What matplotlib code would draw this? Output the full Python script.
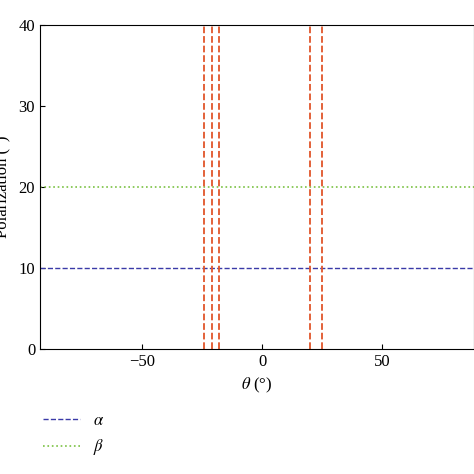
import matplotlib
matplotlib.use("Agg")
import matplotlib.pyplot as plt

plt.rcParams['font.family'] = ['Liberation Serif', 'DejaVu Serif']
plt.rcParams['mathtext.fontset'] = 'stix'
alpha_val = [10]
beta_val = [20]
vlines_x = [-24, -21, -18, 20, 25]
xticks = [-50, 0, 50]
yticks = [0, 10, 20, 30, 40]

fig = plt.figure(figsize=(4.74, 4.74), dpi=100)
ax = fig.add_axes([40/474, 1-349/474, 434/474, 324/474])
ax.axhline(alpha_val[0], color='#3a3aa8', ls='--', lw=1, label=r'$\alpha$')
ax.axhline(beta_val[0], color='#7ac142', ls=':', lw=1.2, label=r'$\beta$')
for x in vlines_x:
    ax.axvline(x, color='#e0552a', ls='--', lw=1.3)
ax.set_xlim(-92.5, 88.3)
ax.set_ylim(0, 40)
ax.set_xticks(xticks)
ax.set_yticks(yticks)
ax.set_xticklabels(['\u221250', '0', '50'])
ax.tick_params(labelsize=12, direction='in')
ax.set_xlabel(r'$\theta$ (°)', fontsize=12)
ax.set_ylabel('Polarization (°)', fontsize=12, labelpad=6)
h, l = ax.get_legend_handles_labels()
fig.legend(h, l, loc='upper left', bbox_to_anchor=(0.06, 0.16), frameon=False, fontsize=12, handlelength=2.2)
fig.savefig('out.png', dpi=100)
